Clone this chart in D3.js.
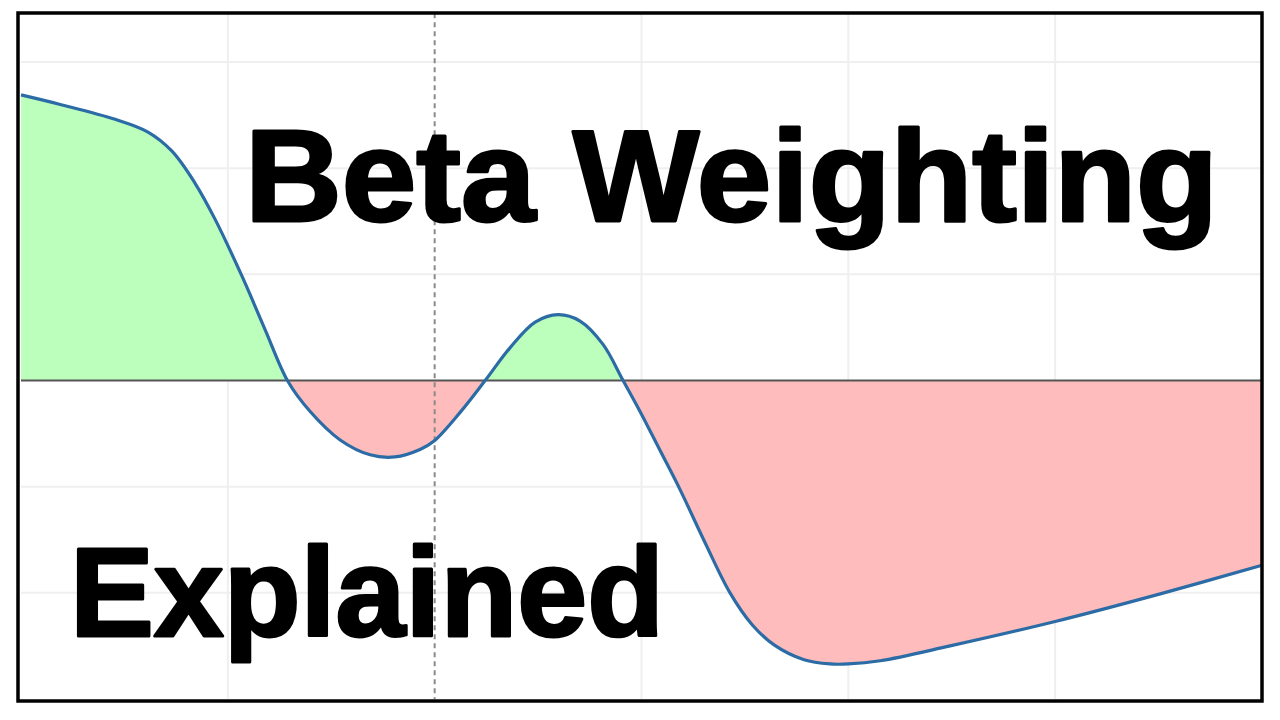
<!DOCTYPE html>
<html>
<head>
<meta charset="utf-8">
<script src="https://cdn.jsdelivr.net/npm/d3@7"></script>
<style>
  html, body { margin: 0; padding: 0; background: #fff; }
  svg { display: block; }
</style>
</head>
<body>
<div id="chart"></div>
<script>
// curve: x in grid units, y in grid units (0 = zero line)
var xs = [0, 0.19, 0.455, 0.614, 0.73, 0.841, 0.938, 1.069, 1.18, 1.291, 1.397, 1.543,
          1.688, 1.808, 1.929, 1.997, 2.123, 2.244, 2.365, 2.486, 2.597, 2.703, 2.814,
          2.911, 2.998, 3.09, 3.187, 3.308, 3.428, 3.535, 3.641, 3.786, 3.912, 3.999,
          4.154, 4.492, 5.0, 5.508, 6.0];
var ys = [2.69, 2.6, 2.46, 2.34, 2.16, 1.86, 1.52, 0.98, 0.48, -0.01, -0.29, -0.56,
          -0.7, -0.72, -0.65, -0.57, -0.3, 0, 0.31, 0.55, 0.62, 0.56, 0.34,
          0, -0.31, -0.66, -1.03, -1.53, -2.0, -2.3, -2.49, -2.63, -2.67, -2.67,
          -2.64, -2.5, -2.27, -2.01, -1.74];
var xGrid = [1, 2, 3, 4, 5];
var yGrid = [-2, -1, 1, 2, 3];
var markerX = 2;
var titleTop = "Beta Weighting";
var titleBottom = "Explained";

function draw() {
    var W = 1280, H = 720;
    var svg = d3.select("#chart").append("svg")
        .attr("width", W)
        .attr("height", H);

    var x = d3.scaleLinear().domain([0, 6]).range([21, 1262]);
    var y = d3.scaleLinear().domain([-3, 3]).range([699, 62]);
    var top = y(3.46);

    var pts = _zip(xs, ys);

    // grid
    svg.selectAll("line.vg")
        .data(xGrid.filter(function(d) { return d != markerX; }))
        .enter().append("line")
        .attr("class", "vg")
        .attr("x1", function(d) { return x(d); })
        .attr("x2", function(d) { return x(d); })
        .attr("y1", top).attr("y2", y(-3))
        .attr("stroke", "#efefef").attr("stroke-width", 2);
    svg.selectAll("line.hg")
        .data(yGrid)
        .enter().append("line")
        .attr("class", "hg")
        .attr("x1", x(0)).attr("x2", x(6))
        .attr("y1", function(d) { return y(d); })
        .attr("y2", function(d) { return y(d); })
        .attr("stroke", "#efefef").attr("stroke-width", 2);

    // fills, split at zero with clips
    var defs = svg.append("defs");
    defs.append("clipPath").attr("id", "above")
        .append("rect").attr("x", x(0)).attr("y", top)
        .attr("width", x(6) - x(0)).attr("height", y(0) - top);
    defs.append("clipPath").attr("id", "below")
        .append("rect").attr("x", x(0)).attr("y", y(0))
        .attr("width", x(6) - x(0)).attr("height", y(-3) - y(0));

    var curve = d3.curveCatmullRom.alpha(0.5);
    var area = d3.area()
        .x(function(d) { return x(d[0]); })
        .y0(y(0))
        .y1(function(d) { return y(d[1]); })
        .curve(curve);

    svg.append("path").datum(pts)
        .attr("d", area)
        .attr("fill", "#bcffbc")
        .attr("clip-path", "url(#above)");
    svg.append("path").datum(pts)
        .attr("d", area)
        .attr("fill", "#ffbcbc")
        .attr("clip-path", "url(#below)");

    // dashed marker
    svg.append("line")
        .attr("x1", x(markerX)).attr("x2", x(markerX))
        .attr("y1", top).attr("y2", y(-3))
        .attr("stroke", "#8a8a8a").attr("stroke-width", 2)
        .attr("stroke-dasharray", "5,4");

    // zero line
    svg.append("line")
        .attr("x1", x(0)).attr("x2", x(6))
        .attr("y1", y(0)).attr("y2", y(0))
        .attr("stroke", "#555").attr("stroke-width", 2);

    // curve
    var line = d3.line()
        .x(function(d) { return x(d[0]); })
        .y(function(d) { return y(d[1]); })
        .curve(curve);
    svg.append("path").datum(pts)
        .attr("d", line)
        .attr("fill", "none")
        .attr("stroke", "#2c6ca6")
        .attr("stroke-width", 3.2);

    // frame
    svg.append("rect")
        .attr("x", 18).attr("y", 13)
        .attr("width", 1262 - 18).attr("height", 701 - 13)
        .attr("fill", "none")
        .attr("stroke", "#000").attr("stroke-width", 3.5);

    // titles
    var font = "'Liberation Sans', Arial, sans-serif";
    svg.append("text")
        .attr("x", 245).attr("y", 221)
        .attr("font-family", font)
        .attr("font-weight", "bold")
        .attr("font-size", 129)
        .attr("textLength", 973)
        .attr("lengthAdjust", "spacingAndGlyphs")
        .attr("fill", "#000")
        .attr("stroke", "#000").attr("stroke-width", 3)
        .attr("stroke-linejoin", "round")
        .text(titleTop);
    svg.append("text")
        .attr("x", 70).attr("y", 636)
        .attr("font-family", font)
        .attr("font-weight", "bold")
        .attr("font-size", 127)
        .attr("textLength", 594)
        .attr("lengthAdjust", "spacingAndGlyphs")
        .attr("fill", "#000")
        .attr("stroke", "#000").attr("stroke-width", 3)
        .attr("stroke-linejoin", "round")
        .text(titleBottom);
}

function _zip(a, b) {
    return a.map(function(d, i) { return [d, b[i]]; });
}

document.body.onload = function() {
    draw();
};
</script>
</body>
</html>
